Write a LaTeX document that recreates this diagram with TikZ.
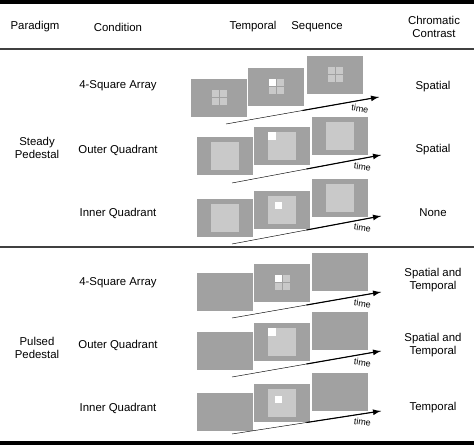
\documentclass[tikz,border=0pt]{standalone}
\usepackage{fontspec}
\setmainfont{Liberation Sans}
\usetikzlibrary{arrows.meta,calc}

\definecolor{framegray}{gray}{0.63}
\definecolor{patchgray}{gray}{0.79}
\definecolor{rulegray}{gray}{0.25}

\begin{document}
\begin{tikzpicture}[x=1pt, y=-1pt,
  frame/.style={fill=framegray},
  patch/.style={fill=patchgray},
  spot/.style={fill=white},
  txt/.style={inner sep=0pt, align=center, font=\fontsize{11.4}{13.8}\selectfont},
  timethin/.style={line width=0.45pt},
  timethick/.style={line width=1.1pt, -{Latex[length=8pt,width=6pt]}},
  timelabel/.style={pos=0.76, anchor=north, inner sep=1pt, yshift=-3.5pt, rotate=-8, font=\fontsize{9}{10}\selectfont}]

  %% ════ rules ════
  \draw[line width=4pt] (0,2) -- (474,2);
  \draw[line width=2pt, rulegray] (0,49) -- (474,49);
  \draw[line width=2pt, rulegray] (0,247) -- (474,247);
  \draw[line width=4pt] (0,443) -- (474,443);

  %% ════ header ════
  \node[txt] (paradigm)  at (35,27)  {Paradigm};
  \node[txt] (condition) at (118,27) {Condition};
  \node[txt] (temporal)  at (253,27) {Temporal};
  \node[txt] (sequence)  at (317,27) {Sequence};
  \node[txt] (contrast)  at (434,27) {Chromatic\\Contrast};

  %% ════ paradigm labels ════
  \node[txt] (steady) at (37,148) {Steady\\Pedestal};
  \node[txt] (pulsed) at (37,348) {Pulsed\\Pedestal};

  %% ════ condition labels ════
  \node[txt] (cond1) at (118,86)  {4-Square Array};
  \node[txt] (cond2) at (118,150) {Outer Quadrant};
  \node[txt] (cond3) at (118,213) {Inner Quadrant};
  \node[txt] (cond4) at (118,283) {4-Square Array};
  \node[txt] (cond5) at (118,345) {Outer Quadrant};
  \node[txt] (cond6) at (118,408) {Inner Quadrant};

  %% ════ contrast labels ════
  \node[txt] (con1) at (433,87)  {Spatial};
  \node[txt] (con2) at (433,150) {Spatial};
  \node[txt] (con3) at (433,213) {None};
  \node[txt] (con4) at (433,280) {Spatial and\\Temporal};
  \node[txt] (con5) at (433,345) {Spatial and\\Temporal};
  \node[txt] (con6) at (433,408) {Temporal};

  %% ════ row 1: steady, 4-square array ════
  \fill[frame] (191,79) rectangle +(56,38);
  \fill[patch] (211.5,90.5) rectangle +(7,7);
  \fill[patch] (219.5,90.5) rectangle +(7,7);
  \fill[patch] (211.5,98.5) rectangle +(7,7);
  \fill[patch] (219.5,98.5) rectangle +(7,7);
  \fill[frame] (248,68) rectangle +(56,38);
  \fill[spot]  (268.5,79.5) rectangle +(7,7);
  \fill[patch] (276.5,79.5) rectangle +(7,7);
  \fill[patch] (268.5,87.5) rectangle +(7,7);
  \fill[patch] (276.5,87.5) rectangle +(7,7);
  \fill[frame] (307,56) rectangle +(56,38);
  \fill[patch] (327.5,67.5) rectangle +(7,7);
  \fill[patch] (335.5,67.5) rectangle +(7,7);
  \fill[patch] (327.5,75.5) rectangle +(7,7);
  \fill[patch] (335.5,75.5) rectangle +(7,7);

  %% ════ row 2: steady, outer quadrant ════
  \fill[frame] (197,137) rectangle +(56,38);
  \fill[patch] (211,142) rectangle +(28,28);
  \fill[frame] (254,127) rectangle +(56,38);
  \fill[patch] (268,132) rectangle +(28,28);
  \fill[spot]  (268,132) rectangle +(8,8);
  \fill[frame] (312,117) rectangle +(56,38);
  \fill[patch] (326,122) rectangle +(28,28);

  %% ════ row 3: steady, inner quadrant ════
  \fill[frame] (197,199) rectangle +(56,38);
  \fill[patch] (211,204) rectangle +(28,28);
  \fill[frame] (254,191) rectangle +(56,38);
  \fill[patch] (268,196) rectangle +(28,28);
  \fill[spot]  (274.5,202.5) rectangle +(7,7);
  \fill[frame] (312,179) rectangle +(56,38);
  \fill[patch] (326,184) rectangle +(28,28);

  %% ════ row 4: pulsed, 4-square array ════
  \fill[frame] (197,273) rectangle +(56,38);
  \fill[frame] (254,264) rectangle +(56,38);
  \fill[spot]  (274.5,275.5) rectangle +(7,7);
  \fill[patch] (282.5,275.5) rectangle +(7,7);
  \fill[patch] (274.5,283.5) rectangle +(7,7);
  \fill[patch] (282.5,283.5) rectangle +(7,7);
  \fill[frame] (312,253) rectangle +(56,38);

  %% ════ row 5: pulsed, outer quadrant ════
  \fill[frame] (197,332) rectangle +(56,38);
  \fill[frame] (254,323) rectangle +(56,38);
  \fill[patch] (268,328) rectangle +(28,28);
  \fill[spot]  (268,328) rectangle +(8,8);
  \fill[frame] (312,312) rectangle +(56,38);

  %% ════ row 6: pulsed, inner quadrant ════
  \fill[frame] (197,393) rectangle +(56,38);
  \fill[frame] (254,384) rectangle +(56,38);
  \fill[patch] (268,389) rectangle +(28,28);
  \fill[spot]  (274.5,395.5) rectangle +(7,7);
  \fill[frame] (312,373) rectangle +(56,38);

  %% ════ time arrows ════
  \coordinate (t1s) at (226,124); \coordinate (t1e) at (379,97);
  \coordinate (t2s) at (232,183); \coordinate (t2e) at (381,155);
  \coordinate (t3s) at (232,244); \coordinate (t3e) at (381,216);
  \coordinate (t4s) at (232,318); \coordinate (t4e) at (381,292);
  \coordinate (t5s) at (232,377); \coordinate (t5e) at (381,351);
  \coordinate (t6s) at (232,434); \coordinate (t6e) at (381,411);

  \draw[timethin] (t1s) -- (t1e);
  \draw[timethick] ($(t1s)!0.5!(t1e)$) -- (t1e) node[timelabel] {time};
  \draw[timethin] (t2s) -- (t2e);
  \draw[timethick] ($(t2s)!0.5!(t2e)$) -- (t2e) node[timelabel] {time};
  \draw[timethin] (t3s) -- (t3e);
  \draw[timethick] ($(t3s)!0.5!(t3e)$) -- (t3e) node[timelabel] {time};
  \draw[timethin] (t4s) -- (t4e);
  \draw[timethick] ($(t4s)!0.5!(t4e)$) -- (t4e) node[timelabel] {time};
  \draw[timethin] (t5s) -- (t5e);
  \draw[timethick] ($(t5s)!0.5!(t5e)$) -- (t5e) node[timelabel] {time};
  \draw[timethin] (t6s) -- (t6e);
  \draw[timethick] ($(t6s)!0.5!(t6e)$) -- (t6e) node[timelabel] {time};

  \pgfresetboundingbox
  \path[use as bounding box] (0,0) rectangle (474,446);
\end{tikzpicture}
\end{document}
